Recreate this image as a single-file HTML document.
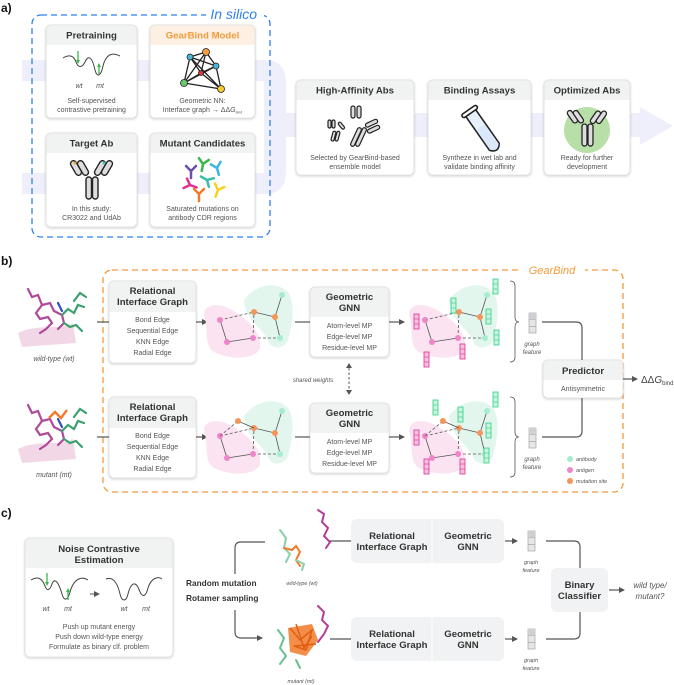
<!DOCTYPE html>
<html><head><meta charset="utf-8"><style>
html,body{margin:0;padding:0;background:#fff}
svg{display:block}
text{font-family:"Liberation Sans",Arial,sans-serif}
.t{font-weight:bold;font-size:9.6px;fill:#333;text-anchor:middle}
.b{font-size:7px;fill:#555;text-anchor:middle}
.i{font-style:italic;fill:#555}
.card{fill:#fff;stroke:#ddd;stroke-width:0.8}
.hd{fill:#f1f2f2}
.ln{stroke:#555;stroke-width:1.2;fill:none}
</style></head><body>
<svg width="674" height="685" viewBox="0 0 674 685" xmlns="http://www.w3.org/2000/svg">
<defs>
<filter id="sh" x="-10%" y="-10%" width="120%" height="130%"><feDropShadow dx="0" dy="1" stdDeviation="1.2" flood-color="#000" flood-opacity="0.18"/></filter>
<marker id="ar" markerWidth="6" markerHeight="6" refX="5" refY="3" orient="auto" markerUnits="userSpaceOnUse"><path d="M0,0 L6,3 L0,6 z" fill="#555"/></marker>
<g id="fv"><rect x="0" y="0" width="7" height="20" fill="#e6e6e8" stroke="#999" stroke-width="0.6"/><line x1="0" y1="6.7" x2="7" y2="6.7" stroke="#999" stroke-width="0.6"/><line x1="0" y1="13.3" x2="7" y2="13.3" stroke="#999" stroke-width="0.6"/><rect x="0" y="0" width="7" height="6.7" fill="#cfd0d3"/></g>
<g id="pk"><rect x="0" y="0" width="5" height="15" fill="#f7bfe2" stroke="#e0308f" stroke-width="0.8"/><line x1="0" y1="5" x2="5" y2="5" stroke="#e0308f" stroke-width="0.6"/><line x1="0" y1="10" x2="5" y2="10" stroke="#e0308f" stroke-width="0.6"/></g>
<g id="gr"><rect x="0" y="0" width="5" height="15" fill="#c8f3dd" stroke="#2fcf88" stroke-width="0.8"/><line x1="0" y1="5" x2="5" y2="5" stroke="#2fcf88" stroke-width="0.6"/><line x1="0" y1="10" x2="5" y2="10" stroke="#2fcf88" stroke-width="0.6"/></g>
<g id="graph">
<path d="M5,28 C0,15 18,10 35,22 C48,30 62,42 60,58 C56,70 30,70 14,62 C4,56 8,40 5,28 z" fill="#fbe3f1"/>
<path d="M44,10 C55,-5 75,-10 88,2 C96,14 92,35 88,50 C84,60 70,60 68,50 C62,38 45,30 44,10 z" fill="#e2f6ee"/>
<g stroke="#555" stroke-width="0.8" fill="none">
<line x1="20" y1="30" x2="27" y2="52"/><line x1="27" y1="52" x2="53" y2="48"/>
<line x1="54" y1="22" x2="75" y2="27"/><line x1="75" y1="27" x2="82" y2="5"/><line x1="75" y1="27" x2="80" y2="48"/>
<g stroke-dasharray="3,2"><line x1="20" y1="30" x2="54" y2="22"/><line x1="53" y1="48" x2="54" y2="22"/><line x1="53" y1="48" x2="80" y2="48"/></g>
</g>
<circle cx="20" cy="30" r="3" fill="#ef86c8"/><circle cx="27" cy="52" r="3" fill="#ef86c8"/><circle cx="53" cy="48" r="3" fill="#ef86c8"/>
<circle cx="54" cy="22" r="3" fill="#f6955a"/><circle cx="75" cy="27" r="3" fill="#f6955a"/>
<circle cx="82" cy="5" r="3" fill="#a8ecd0"/><circle cx="80" cy="48" r="3" fill="#a8ecd0"/>
</g>
<g id="wtprot">
<path d="M0,50 C20,40 40,48 55,40 L58,60 L4,64 z" fill="#ecc7dc" opacity="0.7"/>
<g fill="none" stroke-width="2.2" stroke-linecap="round">
<polyline points="10,6 14,14 20,12 24,22 18,30 22,36 30,34 34,40 28,46 22,50" stroke="#b0489a"/>
<polyline points="24,22 32,20 36,28 44,32 46,40 40,46" stroke="#b0489a"/>
<polyline points="44,32 50,26 56,30 60,22 66,24" stroke="#3aa06e"/>
<polyline points="56,18 62,10 68,14" stroke="#3aa06e"/>
<polyline points="46,40 52,44 58,42 64,48" stroke="#3aa06e"/>
<polyline points="40,20 44,28" stroke="#2e4fbf"/>
</g></g>
</defs>

<!-- ===== Panel a ===== -->
<text x="1" y="12" font-size="12" font-weight="bold" fill="#111">a)</text>
<path d="M22,60 H264 Q286,60 286,82 V113 H640 V107 L673,126 L640,145 V137 H286 V172 Q286,194 264,194 H22 V173 H264 Q264,173 264,172 V82 Q264,81 264,81 H22 z" fill="#eeeffb"/>
<rect x="32" y="15" width="238" height="222" rx="9" fill="none" stroke="#2f80ed" stroke-width="1.3" stroke-dasharray="6,4"/>
<rect x="206" y="6" width="58" height="16" fill="#fff"/>
<text x="257" y="19" font-size="14" font-style="italic" fill="#2f80ed" text-anchor="end">In silico</text>

<g filter="url(#sh)">
<rect class="card" x="46" y="25" width="91" height="93" rx="5"/>
<rect class="card" x="150" y="25" width="105" height="93" rx="5"/>
<rect class="card" x="46" y="133" width="91" height="94" rx="5"/>
<rect class="card" x="150" y="133" width="105" height="94" rx="5"/>
<rect class="card" x="296" y="80" width="118" height="95" rx="5"/>
<rect class="card" x="428" y="80" width="103" height="95" rx="5"/>
<rect class="card" x="544" y="80" width="86" height="95" rx="5"/>
</g>
<path class="hd" d="M46.5,45 V30 Q46.5,25.5 51,25.5 H132 Q136.5,25.5 136.5,30 V45 z"/>
<path d="M150.5,45 V30 Q150.5,25.5 155,25.5 H250 Q254.5,25.5 254.5,30 V45 z" fill="#fdf0e3"/>
<path class="hd" d="M46.5,153 V138 Q46.5,133.5 51,133.5 H132 Q136.5,133.5 136.5,138 V153 z"/>
<path class="hd" d="M150.5,153 V138 Q150.5,133.5 155,133.5 H250 Q254.5,133.5 254.5,138 V153 z"/>
<path class="hd" d="M296.5,100 V85 Q296.5,80.5 301,80.5 H409 Q413.5,80.5 413.5,85 V100 z"/>
<path class="hd" d="M428.5,100 V85 Q428.5,80.5 433,80.5 H526 Q530.5,80.5 530.5,85 V100 z"/>
<path class="hd" d="M544.5,100 V85 Q544.5,80.5 549,80.5 H625 Q629.5,80.5 629.5,85 V100 z"/>

<text class="t" x="91.5" y="38.5">Pretraining</text>
<text class="t" x="202.5" y="38.5" style="fill:#f39a3a">GearBind Model</text>
<text class="t" x="91.5" y="146.5">Target Ab</text>
<text class="t" x="202.5" y="146.5">Mutant Candidates</text>
<text class="t" x="355" y="93.5">High-Affinity Abs</text>
<text class="t" x="479.5" y="93.5">Binding Assays</text>
<text class="t" x="587" y="93.5">Optimized Abs</text>

<text class="b" x="91.5" y="103">Self-supervised</text>
<text class="b" x="91.5" y="112">contrastive pretraining</text>
<text class="b" x="202.5" y="103">Geometric NN:</text>
<text class="b" x="202.5" y="112">Interface graph → ΔΔ<tspan font-style="italic">G</tspan><tspan font-size="3.5" dy="1.5">bind</tspan></text>
<text class="b" x="91.5" y="211">In this study:</text>
<text class="b" x="91.5" y="220">CR3022 and UdAb</text>
<text class="b" x="202.5" y="211">Saturated mutations on</text>
<text class="b" x="202.5" y="220">antibody CDR regions</text>
<text class="b" x="355" y="160">Selected by GearBind-based</text>
<text class="b" x="355" y="169">ensemble model</text>
<text class="b" x="479.5" y="160">Syntheze in wet lab and</text>
<text class="b" x="479.5" y="169">validate binding affinity</text>
<text class="b" x="587" y="160">Ready for further</text>
<text class="b" x="587" y="169">development</text>

<!-- pretraining wells -->
<path d="M63,58 C70,54 74,56 76,62 C78,68 82,68 85,62 C88,55 92,56 95,70 C97,78 101,76 103,66 C106,54 112,52 120,56" fill="none" stroke="#444" stroke-width="1"/>
<line x1="78" y1="51" x2="78" y2="61" stroke="#3cb54a" stroke-width="1.3"/>
<path d="M76,60 L78,64 L80,60z" fill="#3cb54a"/>
<line x1="99" y1="74" x2="99" y2="66" stroke="#3cb54a" stroke-width="1.3"/>
<path d="M97,67 L99,63 L101,67z" fill="#3cb54a"/>
<text x="79" y="88" font-size="7" class="i" text-anchor="middle">wt</text>
<text x="100" y="88" font-size="7" class="i" text-anchor="middle">mt</text>

<!-- gearbind network -->
<g stroke="#222" stroke-width="1.3">
<line x1="206" y1="52" x2="190" y2="57"/><line x1="206" y1="52" x2="216" y2="66"/><line x1="206" y1="52" x2="184" y2="83"/><line x1="206" y1="52" x2="201" y2="73"/>
<line x1="190" y1="57" x2="216" y2="66"/><line x1="190" y1="57" x2="201" y2="73"/><line x1="190" y1="57" x2="184" y2="83"/><line x1="190" y1="57" x2="221" y2="89"/>
<line x1="216" y1="66" x2="201" y2="73"/><line x1="216" y1="66" x2="221" y2="89"/><line x1="216" y1="66" x2="184" y2="83"/>
<line x1="201" y1="73" x2="184" y2="83"/><line x1="201" y1="73" x2="221" y2="89"/><line x1="184" y1="83" x2="221" y2="89"/>
</g>
<circle cx="206" cy="52" r="3.5" fill="#f0a040" stroke="#222" stroke-width="0.8"/>
<circle cx="190" cy="57" r="3" fill="#49b8d8" stroke="#222" stroke-width="0.8"/>
<circle cx="216" cy="66" r="3" fill="#49b8d8" stroke="#222" stroke-width="0.8"/>
<circle cx="201" cy="73" r="2.5" fill="#e0343a" stroke="#222" stroke-width="0.8"/>
<circle cx="184" cy="83" r="3.5" fill="#6cc870" stroke="#222" stroke-width="0.8"/>
<circle cx="221" cy="89" r="3.5" fill="#f5c935" stroke="#222" stroke-width="0.8"/>

<!-- target ab -->
<g fill="#ddd" stroke="#222" stroke-width="1.4">
<rect x="73" y="160" width="6" height="16" rx="3" transform="rotate(-30 76 168)"/>
<rect x="80" y="160" width="6" height="16" rx="3" transform="rotate(-30 83 168)"/>
<rect x="97" y="160" width="6" height="16" rx="3" transform="rotate(30 100 168)"/>
<rect x="104" y="160" width="6" height="16" rx="3" transform="rotate(30 107 168)"/>
<rect x="86" y="177" width="5.5" height="22" rx="2.7"/>
<rect x="92.5" y="177" width="5.5" height="22" rx="2.7"/>
</g>
<circle cx="75" cy="163" r="1.5" fill="#f0a040"/><circle cx="104" cy="163" r="1.5" fill="#49c2b0"/>

<!-- mutant candidates -->
<g stroke-width="2.5" fill="none" stroke-linecap="round">
<g stroke="#6a4fb0" transform="translate(191,171)"><path d="M0,0 V7 M0,0 L-5,-5 M0,0 L5,-5"/></g>
<g stroke="#3cb54a" transform="translate(203,164) rotate(10)"><path d="M0,0 V7 M0,0 L-5,-5 M0,0 L5,-5"/></g>
<g stroke="#3ab6e0" transform="translate(217,168) rotate(-15)"><path d="M0,0 V7 M0,0 L-5,-5 M0,0 L5,-5"/></g>
<g stroke="#e0308f" transform="translate(190,185) rotate(-70)"><path d="M0,0 V7 M0,0 L-5,-5 M0,0 L5,-5"/></g>
<g stroke="#3bbfa7" transform="translate(207,180) rotate(120)"><path d="M0,0 V7 M0,0 L-5,-5 M0,0 L5,-5"/></g>
<g stroke="#f07a2a" transform="translate(199,194)"><path d="M0,0 V7 M0,0 L-5,-5 M0,0 L5,-5"/></g>
<g stroke="#f5d020" transform="translate(218,190) rotate(20)"><path d="M0,0 V7 M0,0 L-5,-5 M0,0 L5,-5"/></g>
</g>

<!-- high affinity abs -->
<g fill="#ddd" stroke="#222" stroke-width="1.2">
<rect x="351" y="106" width="4" height="12" rx="2"/><rect x="357" y="106" width="4" height="12" rx="2"/>
<rect x="354" y="127" width="4" height="20" rx="2" transform="rotate(25 356 137)"/><rect x="359" y="127" width="4" height="20" rx="2" transform="rotate(25 361 137)"/>
<rect x="370" y="117" width="4" height="13" rx="2" transform="rotate(65 372 123)"/><rect x="372" y="123" width="4" height="13" rx="2" transform="rotate(65 374 129)"/>
<rect x="328" y="120" width="3" height="8" rx="1.5"/><rect x="332" y="120" width="3" height="8" rx="1.5"/>
<rect x="332" y="131" width="3" height="10" rx="1.5" transform="rotate(15 333 136)"/><rect x="336" y="131" width="3" height="10" rx="1.5" transform="rotate(15 337 136)"/>
<rect x="340" y="122" width="3" height="8" rx="1.5" transform="rotate(-40 341 126)"/>
</g>
<!-- test tube -->
<g transform="rotate(-35 484 132)">
<path d="M478,108 V150 Q484,158 490,150 V108" fill="#e8f0fb" stroke="#222" stroke-width="1.6"/>
<path d="M478.8,126 V150 Q484,156 489.2,150 V126 z" fill="#dbe7fa"/>
<rect x="475" y="105" width="18" height="4" rx="2" fill="#fff" stroke="#222" stroke-width="1.6"/>
</g>
<!-- optimized abs -->
<circle cx="587" cy="130" r="23" fill="#b9dfa8"/>
<g fill="#ddd" stroke="#222" stroke-width="1.3">
<rect x="570" y="110" width="5" height="14" rx="2.5" transform="rotate(-35 572 117)"/><rect x="576" y="110" width="5" height="14" rx="2.5" transform="rotate(-35 578 117)"/>
<rect x="593" y="110" width="5" height="14" rx="2.5" transform="rotate(35 595 117)"/><rect x="599" y="110" width="5" height="14" rx="2.5" transform="rotate(35 601 117)"/>
<rect x="582" y="124" width="5" height="22" rx="2.5"/><rect x="588" y="124" width="5" height="22" rx="2.5"/>
</g>

<!-- ===== Panel b ===== -->
<text x="1" y="265" font-size="12" font-weight="bold" fill="#111">b)</text>
<rect x="103" y="270" width="520" height="222" rx="9" fill="none" stroke="#f39a3a" stroke-width="1.3" stroke-dasharray="6,4"/>
<rect x="520" y="262" width="65" height="16" fill="#fff"/>
<text x="552" y="274" font-size="11" font-style="italic" fill="#f39a3a" text-anchor="middle">GearBind</text>

<use href="#wtprot" x="18" y="283"/>
<use href="#wtprot" x="18" y="399"/>
<path d="M44,418 L50,412 L56,418 L62,410" stroke="#f07a2a" stroke-width="2.4" fill="none" transform="translate(5,0)"/>
<text x="54" y="361" font-size="7" class="i" text-anchor="middle">wild-type (wt)</text>
<text x="54" y="477" font-size="7" class="i" text-anchor="middle">mutant (mt)</text>

<g filter="url(#sh)">
<rect class="card" x="109" y="281" width="87" height="82" rx="5"/>
<rect class="card" x="310" y="287" width="79" height="70" rx="5"/>
<rect class="card" x="109" y="397" width="87" height="81" rx="5"/>
<rect class="card" x="310" y="403" width="79" height="70" rx="5"/>
<rect class="card" x="543" y="360" width="80" height="38" rx="5"/>
</g>
<path class="hd" d="M109.5,312 V286 Q109.5,281.5 114,281.5 H191 Q195.5,281.5 195.5,286 V312 z"/>
<path class="hd" d="M310.5,317 V292 Q310.5,287.5 315,287.5 H384 Q388.5,287.5 388.5,292 V317 z"/>
<path class="hd" d="M109.5,428 V402 Q109.5,397.5 114,397.5 H191 Q195.5,397.5 195.5,402 V428 z"/>
<path class="hd" d="M310.5,433 V408 Q310.5,403.5 315,403.5 H384 Q388.5,403.5 388.5,408 V433 z"/>
<path class="hd" d="M543.5,380 V365 Q543.5,360.5 548,360.5 H618 Q622.5,360.5 622.5,365 V380 z"/>

<g>
<text class="t" x="152.5" y="294">Relational</text><text class="t" x="152.5" y="305">Interface Graph</text>
<text class="b" x="152.5" y="322">Bond Edge</text><text class="b" x="152.5" y="333">Sequential Edge</text><text class="b" x="152.5" y="344">KNN Edge</text><text class="b" x="152.5" y="355">Radial Edge</text>
<text class="t" x="349.5" y="300">Geometric</text><text class="t" x="349.5" y="311">GNN</text>
<text class="b" x="349.5" y="328">Atom-level MP</text><text class="b" x="349.5" y="339">Edge-level MP</text><text class="b" x="349.5" y="350">Residue-level MP</text>
</g>
<g transform="translate(0,116)">
<text class="t" x="152.5" y="294">Relational</text><text class="t" x="152.5" y="305">Interface Graph</text>
<text class="b" x="152.5" y="322">Bond Edge</text><text class="b" x="152.5" y="333">Sequential Edge</text><text class="b" x="152.5" y="344">KNN Edge</text><text class="b" x="152.5" y="355">Radial Edge</text>
<text class="t" x="349.5" y="300">Geometric</text><text class="t" x="349.5" y="311">GNN</text>
<text class="b" x="349.5" y="328">Atom-level MP</text><text class="b" x="349.5" y="339">Edge-level MP</text><text class="b" x="349.5" y="350">Residue-level MP</text>
</g>
<text class="t" x="583" y="374">Predictor</text>
<text class="b" x="583" y="391">Antisymmetric</text>

<g class="ln">
<line x1="97" y1="322" x2="109" y2="322"/><line x1="196" y1="322" x2="207" y2="322" marker-end="url(#ar)"/>
<line x1="295" y1="322" x2="310" y2="322"/><line x1="389" y1="322" x2="404" y2="322" marker-end="url(#ar)"/>
<line x1="97" y1="437" x2="109" y2="437"/><line x1="196" y1="437" x2="207" y2="437" marker-end="url(#ar)"/>
<line x1="295" y1="437" x2="310" y2="437"/><line x1="389" y1="437" x2="404" y2="437" marker-end="url(#ar)"/>
<path d="M542,322 H576 Q582,322 582,328 V360"/>
<path d="M542,437 H576 Q582,437 582,431 V398"/>
<line x1="623" y1="379" x2="637" y2="379" marker-end="url(#ar)"/>
</g>
<text x="641" y="383" font-size="10" fill="#444">ΔΔ<tspan font-style="italic">G</tspan><tspan font-size="6" dy="2">bind</tspan></text>
<text x="313" y="382" font-size="6" class="i" text-anchor="middle">shared weights</text>
<line x1="349" y1="368" x2="349" y2="390" stroke="#555" stroke-width="1" stroke-dasharray="2.5,2"/>
<path d="M346,368 L349,363 L352,368z M346,390 L349,395 L352,390z" fill="#555"/>

<use href="#graph" x="200" y="290"/>
<use href="#graph" x="405" y="290"/>
<use href="#graph" x="200" y="406"/>
<use href="#graph" x="405" y="406"/>
<g stroke="#555" stroke-width="0.8" fill="none"><line x1="238" y1="421" x2="254" y2="428"/><line x1="220" y1="436" x2="238" y2="421" stroke-dasharray="3,2"/></g>
<circle cx="238" cy="421" r="3" fill="#f6955a"/>
<g stroke="#555" stroke-width="0.8" fill="none"><line x1="443" y1="421" x2="459" y2="428"/><line x1="425" y1="436" x2="443" y2="421" stroke-dasharray="3,2"/></g>
<circle cx="443" cy="421" r="3" fill="#f6955a"/>
<use href="#pk" x="414" y="314"/><use href="#pk" x="424" y="352"/><use href="#pk" x="460" y="344"/>
<use href="#gr" x="451" y="298"/><use href="#gr" x="493" y="279"/><use href="#gr" x="486" y="309"/><use href="#gr" x="494" y="330"/>
<use href="#pk" x="414" y="430"/><use href="#pk" x="424" y="459"/><use href="#pk" x="460" y="459"/>
<use href="#gr" x="433" y="400"/><use href="#gr" x="458" y="407"/><use href="#gr" x="493" y="392"/><use href="#gr" x="486" y="423"/><use href="#gr" x="484" y="448"/>
<path d="M510,281 Q515,281 515,286 V317 Q515,322 519,322 Q515,322 515,327 V357 Q515,362 510,362" fill="none" stroke="#555" stroke-width="0.8"/>
<path d="M510,397 Q515,397 515,402 V432 Q515,437 519,437 Q515,437 515,442 V472 Q515,477 510,477" fill="none" stroke="#555" stroke-width="0.8"/>
<use href="#fv" x="529" y="313"/><use href="#fv" x="529" y="428"/>
<text x="532" y="346" font-size="6" class="i" text-anchor="middle">graph</text><text x="532" y="354" font-size="6" class="i" text-anchor="middle">feature</text>
<text x="532" y="461" font-size="6" class="i" text-anchor="middle">graph</text><text x="532" y="469" font-size="6" class="i" text-anchor="middle">feature</text>
<circle cx="570" cy="459" r="3" fill="#a8ecd0"/><circle cx="570" cy="470" r="3" fill="#ef86c8"/><circle cx="570" cy="481" r="3" fill="#f6955a"/>
<text x="576" y="461" font-size="5.5" class="i">antibody</text><text x="576" y="472" font-size="5.5" class="i">antigen</text><text x="576" y="483" font-size="5.5" class="i">mutation site</text>

<!-- ===== Panel c ===== -->
<text x="1" y="517" font-size="12" font-weight="bold" fill="#111">c)</text>
<g filter="url(#sh)"><rect class="card" x="25" y="538" width="148" height="119" rx="5"/></g>
<path class="hd" d="M25.5,568 V543 Q25.5,538.5 30,538.5 H168 Q172.5,538.5 172.5,543 V568 z"/>
<text class="t" x="99" y="552">Noise Contrastive</text><text class="t" x="99" y="563">Estimation</text>
<path d="M31,580 C38,576 42,578 45,586 C47,592 50,590 52,584 C54,578 58,580 62,594 C64,602 68,600 70,592 C74,578 82,576 88,580" fill="none" stroke="#444" stroke-width="1"/>
<line x1="47" y1="573" x2="47" y2="583" stroke="#3cb54a" stroke-width="1.3"/><path d="M45,582 L47,586 L49,582z" fill="#3cb54a"/>
<line x1="68" y1="600" x2="68" y2="592" stroke="#3cb54a" stroke-width="1.3"/><path d="M66,592 L68,588 L70,592z" fill="#3cb54a"/>
<line x1="90" y1="594" x2="99" y2="594" stroke="#555" stroke-width="1" marker-end="url(#ar)"/>
<path d="M106,579 C114,576 118,585 120,594 C122,602 126,602 128,594 C131,582 136,580 140,592 C143,598 146,596 148,588 C151,578 158,576 162,579" fill="none" stroke="#444" stroke-width="1"/>
<text x="46" y="611" font-size="7" class="i" text-anchor="middle">wt</text><text x="68" y="611" font-size="7" class="i" text-anchor="middle">mt</text>
<text x="124" y="611" font-size="7" class="i" text-anchor="middle">wt</text><text x="146" y="611" font-size="7" class="i" text-anchor="middle">mt</text>
<text class="b" x="99" y="629">Push up mutant energy</text><text class="b" x="99" y="639">Push down wild-type energy</text><text class="b" x="99" y="649">Formulate as binary clf. problem</text>

<text x="186" y="586" font-size="8.3" font-weight="bold" fill="#333">Random mutation</text>
<text x="186" y="601" font-size="8.3" font-weight="bold" fill="#333">Rotamer sampling</text>
<path d="M235,574 V548 Q235,542 241,542 H265" class="ln"/>
<path d="M235,610 V632 Q235,638 241,638 H262" class="ln" marker-end="url(#ar)"/>

<g fill="none" stroke-width="2" stroke-linecap="round">
<polyline points="318,510 324,514 322,522 328,528 324,536 330,542 326,548" stroke="#b63c9a"/>
<polyline points="280,530 286,538 284,548 290,554 286,562" stroke="#8ccfa8"/>
<polyline points="284,548 292,550 296,546 300,552 296,560 300,566" stroke="#f07a2a"/>
<polyline points="296,560 304,564 302,570" stroke="#8ccfa8"/>
<polyline points="318,606 324,612 322,620 328,626 324,634 318,642" stroke="#b63c9a"/>
<polyline points="278,630 284,638 280,648 286,656 280,664" stroke="#6cbf8e"/>
<polyline points="296,660 300,668" stroke="#6cbf8e"/>
</g>
<path d="M288,628 L312,624 L318,640 L306,656 L290,652 z" fill="#f07a2a" opacity="0.85"/>
<g stroke="#e05f10" stroke-width="1.5" fill="none"><polyline points="290,628 300,640 312,630 306,650 294,646 316,644"/><polyline points="296,624 304,648 312,636"/></g>
<text x="302" y="585" font-size="5.3" class="i" text-anchor="middle">wild-type (wt)</text>
<text x="301" y="683" font-size="5.3" class="i" text-anchor="middle">mutant (mt)</text>

<rect x="351" y="519" width="153" height="44" rx="6" fill="#f1f2f3"/>
<line x1="432" y1="519" x2="432" y2="563" stroke="#fff" stroke-width="1"/>
<rect x="351" y="617" width="153" height="44" rx="6" fill="#f1f2f3"/>
<line x1="432" y1="617" x2="432" y2="661" stroke="#fff" stroke-width="1"/>
<text class="t" x="392" y="539">Relational</text><text class="t" x="392" y="550">Interface Graph</text>
<text class="t" x="468" y="539">Geometric</text><text class="t" x="468" y="550">GNN</text>
<text class="t" x="392" y="637">Relational</text><text class="t" x="392" y="648">Interface Graph</text>
<text class="t" x="468" y="637">Geometric</text><text class="t" x="468" y="648">GNN</text>
<g class="ln">
<line x1="330" y1="541" x2="351" y2="541"/><line x1="330" y1="639" x2="351" y2="639"/>
<line x1="505" y1="541" x2="517" y2="541" marker-end="url(#ar)"/><line x1="505" y1="639" x2="517" y2="639" marker-end="url(#ar)"/>
<path d="M546,541 H574 Q580,541 580,547 V568"/>
<path d="M546,639 H574 Q580,639 580,633 V612"/>
<line x1="609" y1="590" x2="624" y2="590" marker-end="url(#ar)"/>
</g>
<use href="#fv" x="528" y="531"/><use href="#fv" x="528" y="629"/>
<text x="531" y="564" font-size="5.5" class="i" text-anchor="middle">graph</text><text x="531" y="572" font-size="5.5" class="i" text-anchor="middle">feature</text>
<text x="531" y="662" font-size="5.5" class="i" text-anchor="middle">graph</text><text x="531" y="670" font-size="5.5" class="i" text-anchor="middle">feature</text>
<rect x="551" y="568" width="57" height="44" rx="6" fill="#f1f2f3"/>
<text class="t" x="579.5" y="588">Binary</text><text class="t" x="579.5" y="599">Classifier</text>
<text x="650" y="588" font-size="8" class="i" text-anchor="middle">wild type/</text>
<text x="650" y="599" font-size="8" class="i" text-anchor="middle">mutant?</text>
</svg>
</body></html>
